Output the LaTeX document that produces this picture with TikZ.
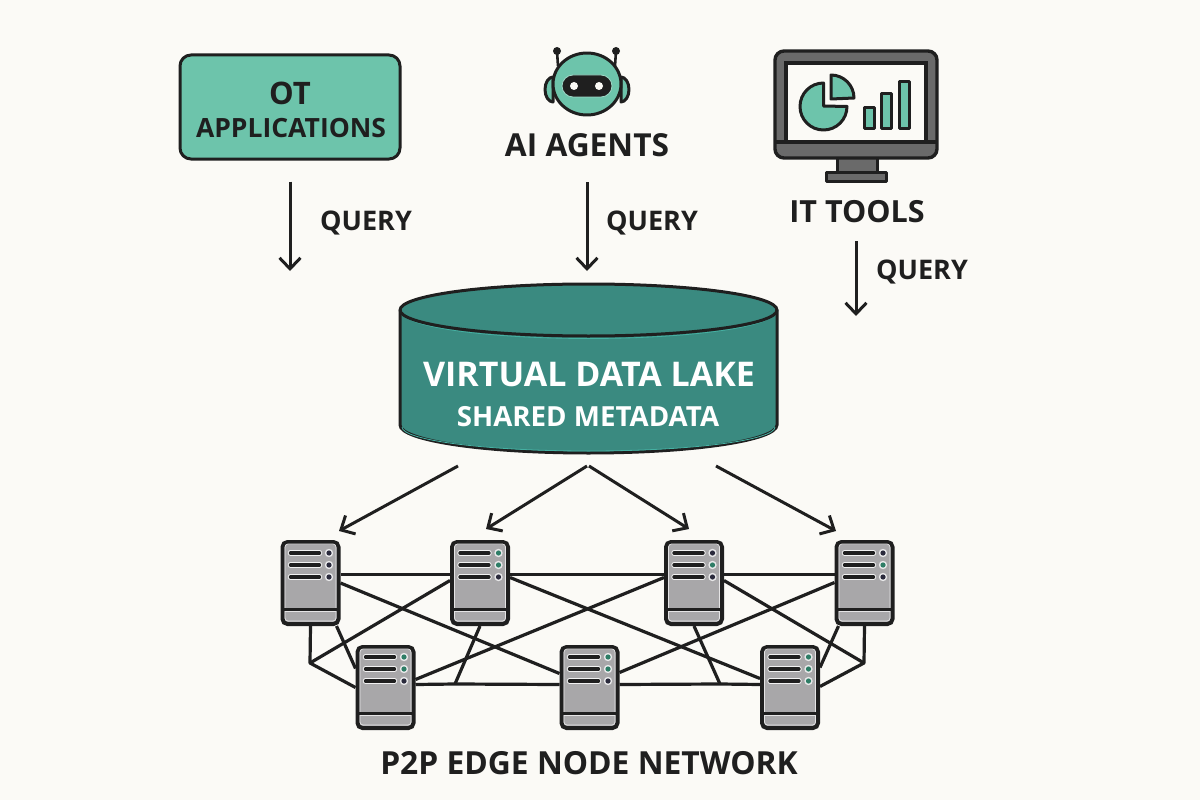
\documentclass[tikz,border=0pt]{standalone}
\usepackage{fontspec}
\setmainfont{Open Sans}
\usetikzlibrary{arrows.meta,calc}
\definecolor{bgc}{HTML}{FBFAF6}
\definecolor{ink}{HTML}{1F1F1F}
\definecolor{mint}{HTML}{6DC4AB}
\definecolor{lake}{HTML}{3A8A80}
\definecolor{lakerim}{HTML}{45B0A2}
\definecolor{srvg}{HTML}{A8A7A9}
\definecolor{monit}{HTML}{6A6A6A}
\definecolor{ledg}{HTML}{2E7D66}
\definecolor{ledn}{HTML}{2A2A3C}
\tikzset{
  x=1pt,y=-1pt,
  arr/.style={draw=ink,line width=3pt,-{Straight Barb[length=11pt,width=21pt,line width=3pt]}},
  link/.style={draw=ink,line width=3.2pt,line join=round},
  serverbox/.style={draw=ink,line width=4pt,rounded corners=5pt,fill=srvg,minimum width=56pt,inner sep=0pt,outer sep=2pt},
  barline/.style={draw=ink,line width=3.4pt,line cap=round},
  barhalo/.style={draw=white!85!srvg,line width=5.4pt,line cap=round},
  label/.style={text=ink,font=\bfseries,inner sep=0pt},
  iconline/.style={draw=ink,line width=3pt,line join=round},
}
% name, centre x, top y, height, three led colours
\newcommand{\srvnode}[7]{%
  \node[serverbox,minimum height=#4pt-3pt,anchor=north] (#1) at (#2,#3) {};
  \begin{scope}[shift={(#2-29.5,#3)}]
    \draw[white!70!srvg,line width=.7pt,rounded corners=3pt] (4,4) rectangle (55,#4-4);
    \draw[ink,line width=3pt] (2,#4-16) -- (57,#4-16);
    \draw[white!70!srvg,line width=.8pt] (4,#4-14) -- (55,#4-14);
    \foreach \yy/\cc in {13/#5,25/#6,37/#7}{
      \draw[barhalo] (9.5,\yy+#4-85) -- (38.5,\yy+#4-85);
      \draw[barline] (9.5,\yy+#4-85) -- (38.5,\yy+#4-85);
      \fill[white!75!srvg] (48,\yy+#4-85) circle (4.2);
      \fill[\cc] (48,\yy+#4-85) circle (2.6);
    }
  \end{scope}
}
\begin{document}
\begin{tikzpicture}
\useasboundingbox (0,0) rectangle (1200,800);
\fill[bgc] (0,0) rectangle (1200,800);

% OT box
\node[draw=ink,line width=3pt,fill=mint,rounded corners=11pt,minimum width=220pt,minimum height=104pt,inner sep=0pt] (ot) at (290,107) {};
\node[label,font=\bfseries\fontsize{31}{31}\selectfont] (ottxt) at (290,93) {OT};
\node[label,font=\bfseries\fontsize{26.5}{26.5}\selectfont] (apptxt) at (291,128) {APPLICATIONS};

% Robot
\draw[iconline,fill=mint] (553,77) arc[start angle=-90,end angle=-270,x radius=8,y radius=12.5] -- cycle;
\draw[iconline,fill=mint] (621,77) arc[start angle=-90,end angle=90,x radius=8,y radius=12.5] -- cycle;
\draw[ink,line width=2.6pt] (557,51) -- (558,66);
\draw[ink,line width=2.6pt] (616,51) -- (615,66);
\fill[ink] (557,51) circle (4);
\fill[ink] (616,51) circle (4);
\draw[iconline,fill=mint] (587,84) ellipse[x radius=34,y radius=31];
\fill[ink,draw=white!35!mint,line width=.8pt,rounded corners=11pt] (562,75) rectangle (612,97);
\fill[bgc] (574,86) circle (4);
\fill[bgc] (599,86) circle (4);
\node[label,font=\bfseries\fontsize{31.7}{31.7}\selectfont] (ai) at (587,145) {AI AGENTS};

% Monitor
\fill[monit] (837,158) rectangle (877,172);
\draw[iconline] (837,158) -- (837,172) -- (877,172) -- (877,158);
\draw[iconline,fill=monit] (826,172) rectangle (886,181);
\draw[ink,line width=3.4pt,fill=monit,rounded corners=9pt] (775,51) rectangle (937,158);
\draw[ink,line width=3.4pt,fill=bgc] (786,63) rectangle (926,142);
\draw[ink,line width=3.4pt] (776,142) -- (936,142);
\draw[iconline,fill=mint] (823.5,106) -- (823.5,83) arc[start angle=-90,end angle=-360,radius=23.5] -- cycle;
\draw[iconline,fill=mint] (831,99) -- (831,75) arc[start angle=-90,end angle=0,radius=23] -- cycle;
\draw[iconline,fill=mint] (864,107) rectangle (874,128);
\draw[iconline,fill=mint] (881,94) rectangle (891,128);
\draw[iconline,fill=mint] (899,82) rectangle (909,128);
\node[label,font=\bfseries\fontsize{30.5}{30.5}\selectfont] (it) at (857,212) {IT TOOLS};

% Cylinder
\path[draw=ink,line width=3pt,fill=lake] (400,310) -- (400,425) arc[start angle=180,end angle=0,x radius=188.5,y radius=28] -- (777,310) arc[start angle=0,end angle=-180,x radius=188.5,y radius=26] -- cycle;
\draw[lakerim,line width=.8pt] (402,427) arc[start angle=180,end angle=0,x radius=186.5,y radius=24];
\draw[lakerim,line width=.8pt] (402,312) arc[start angle=180,end angle=0,x radius=186.5,y radius=26.5];
\draw[ink,line width=3pt] (400,310) arc[start angle=180,end angle=0,x radius=188.5,y radius=26];
\node[inner sep=0pt,outer sep=0pt,minimum width=379pt,minimum height=171pt] (lakeshape) at (588.5,368.5) {};
\node[text=white,font=\bfseries\fontsize{34}{34}\selectfont,inner sep=0pt] (vdl) at (589,374) {VIRTUAL DATA LAKE};
\node[text=white,font=\bfseries\fontsize{27.7}{27.7}\selectfont,inner sep=0pt] (meta) at (588,417) {SHARED METADATA};

% Query arrows
\coordinate (q1s) at ($(ot.south)+(0,21)$); \coordinate (q1e) at (290,271);
\coordinate (q2s) at (587,182); \coordinate (q2e) at ($(lakeshape.north)+(-1.5,-12)$);
\coordinate (q3s) at (856,241); \coordinate (q3e) at (856,316);
\draw[arr] (q1s) -- (q1e);
\draw[arr] (q2s) -- (q2e);
\draw[arr] (q3s) -- (q3e);
\node[label,font=\bfseries\fontsize{27}{27}\selectfont] (ql1) at (366,223) {QUERY};
\node[label,font=\bfseries\fontsize{27}{27}\selectfont] (ql2) at (652,223) {QUERY};
\node[label,font=\bfseries\fontsize{27}{27}\selectfont] (ql3) at (922,272) {QUERY};

% Links under servers
\coordinate (jl) at (310,663);
\coordinate (jr) at (864,663);
\coordinate (jm1) at (455,684);
\coordinate (jm2) at (720,684);

\srvnode{s1}{310.5}{540}{85}{ledn}{ledn}{ledn}
\srvnode{s2}{480}{540}{85}{ledg}{ledg}{ledn}
\srvnode{s3}{694}{540}{85}{ledn}{ledg}{ledn}
\srvnode{s4}{864.5}{540}{85}{ledn}{ledg}{ledn}
\srvnode{b1}{385.5}{645}{84}{ledg}{ledg}{ledn}
\srvnode{b2}{589.5}{645}{84}{ledg}{ledg}{ledn}
\srvnode{b3}{790}{645}{84}{ledg}{ledg}{ledg}

\draw[link] ([yshift=8.5]s1.east) -- ([yshift=8.5]s2.west);
\draw[link] ([yshift=8.5]s2.east) -- ([yshift=8.5]s3.west);
\draw[link] ([yshift=8.5]s3.east) -- ([yshift=8.5]s4.west);
\draw[link] (s1.east) -- ([yshift=14]b2.west);
\draw[link] (s1.south) -- (jl) -- (b1.west);
\draw[link] (jl) -- ([yshift=2.5]s2.west);
\draw[link] ([xshift=26]s1.south) -- ([yshift=19]b1.west);
\draw[link] (s2.south) -- (jm1);
\draw[link] ([yshift=3]b1.east) -- (jm1) -- ([yshift=3]b2.west);
\draw[link] ([yshift=8]b1.east) -- ([yshift=5.5]s3.west);
\draw[link] ([yshift=5.5]s2.east) -- ([yshift=9]b3.west);
\draw[link] ([yshift=15]b2.east) -- ([yshift=.5]s4.west);
\draw[link] ([yshift=3]b2.east) -- (jm2) -- ([yshift=3]b3.west);
\draw[link] (s3.south) -- (jm2);
\draw[link] ([yshift=2.5]s3.east) -- (jr);
\draw[link] (s4.south) -- (jr) -- ([yshift=1]b3.east);
\draw[link] ([xshift=-26]s4.south) -- ([yshift=20]b3.east);

% Lake to servers
\coordinate (a1s) at ($(lakeshape.south)+(-130.5,12)$); \coordinate (a1e) at ($(s1.north)+(28.5,-9)$);
\coordinate (a2s) at ($(lakeshape.south)+(-1.5,12)$);   \coordinate (a2e) at ($(s2.north)+(6,-11)$);
\coordinate (a3s) at ($(lakeshape.south)+(.5,12)$);     \coordinate (a3e) at ($(s3.north)+(-5,-11)$);
\coordinate (a4s) at ($(lakeshape.south)+(127.5,12)$);  \coordinate (a4e) at ($(s4.north)+(-28.5,-9)$);
\draw[arr] (a1s) -- (a1e);
\draw[arr] (a2s) -- (a2e);
\draw[arr] (a3s) -- (a3e);
\draw[arr] (a4s) -- (a4e);

\node[label,font=\bfseries\fontsize{31.8}{31.8}\selectfont] (p2p) at (589,763) {P2P EDGE NODE NETWORK};
\end{tikzpicture}
\end{document}
